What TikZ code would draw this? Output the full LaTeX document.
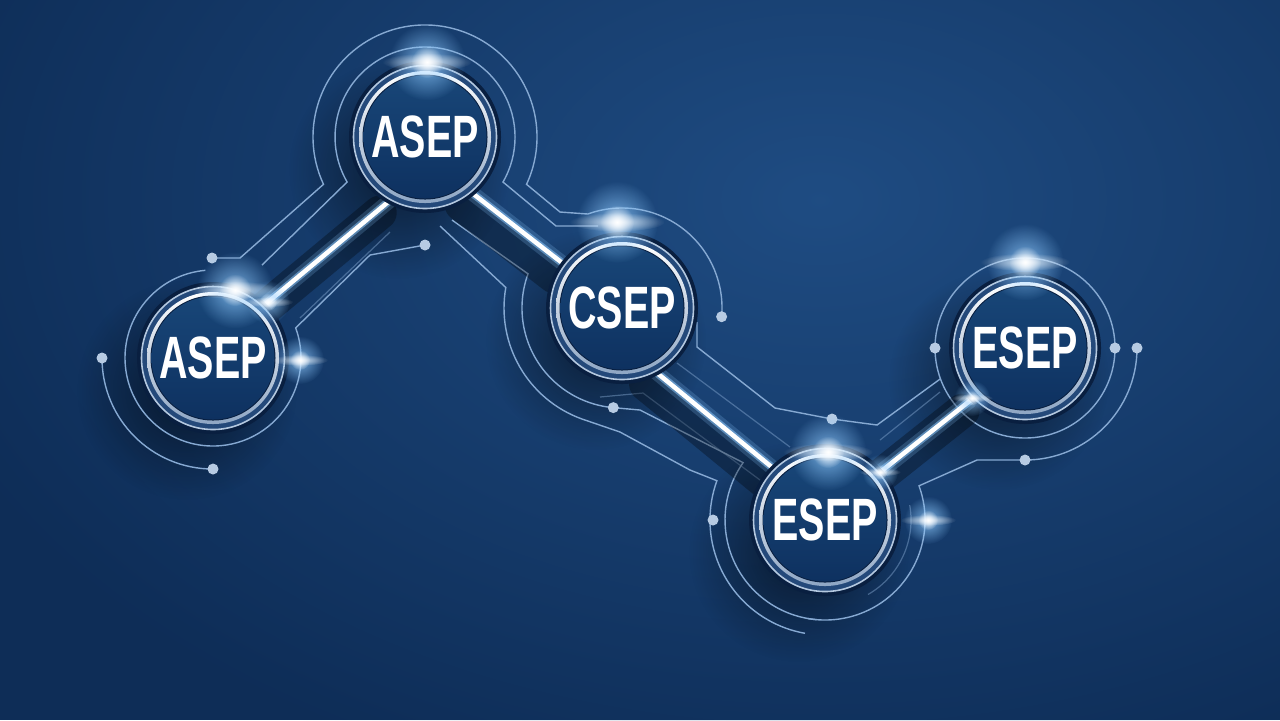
\documentclass[tikz,border=0pt]{standalone}
\usepackage{fontspec}
\usetikzlibrary{fadings}
\newfontfamily\lblfont[FakeStretch=0.66]{Liberation Sans Bold}
\definecolor{bgbase}{HTML}{0E2D57}
\definecolor{bglight}{HTML}{204E85}
\definecolor{navytop}{HTML}{184678}
\definecolor{navybot}{HTML}{0E3160}
\definecolor{navyedge}{HTML}{091F40}
\definecolor{bandc}{HTML}{24497A}
\definecolor{ringgray}{HTML}{8EA6C4}
\definecolor{ringline}{HTML}{B4C8DF}
\definecolor{circ}{HTML}{86A9D2}
\definecolor{dotc}{HTML}{B7CBE3}
\definecolor{glowc}{HTML}{8FCBFF}
\tikzfading[name=glowf, inner color=transparent!0, outer color=transparent!100]
\pgfdeclarelayer{back}
\pgfsetlayers{back,main}
\tikzset{
  lbl/.style={circle, minimum size=1.44cm, inner sep=0pt, text=white,
    font=\lblfont\fontsize{17}{18}\selectfont},
  circuit/.style={draw=circ, line width=0.4pt},
  faint/.style={draw=circ, line width=0.35pt, opacity=0.45},
  dotp/.style={fill=dotc},
  groove/.style={line width=0.34cm, draw=black, opacity=0.3, line cap=round},
  glowA/.style={line width=0.15cm, draw=glowc, opacity=0.2},
  glowB/.style={line width=0.08cm, draw=glowc, opacity=0.5},
  core/.style={line width=0.045cm, draw=white},
}
\newcommand\ringdeco[1]{%
  \fill[navyedge] (#1) circle (76);
  \fill[bandc] (#1) circle (72);
  \draw[ringline, line width=0.45pt] (#1) circle (71.5);
  \shade[top color=white, bottom color=ringgray] (#1) circle (66);
  \fill[navyedge] (#1) circle (62.5);
  \shade[top color=navytop, bottom color=navybot] (#1) circle (61.5);
}
\newcommand\glowspot[2]{%
  \fill[glowc, path fading=glowf, opacity=0.8] #1 circle [radius=#2*1.2];
  \fill[white, path fading=glowf, opacity=0.7] #1 ellipse [x radius=#2*1.4, y radius=#2*0.28];
  \fill[white, path fading=glowf] #1 circle [radius=#2*0.5];
}
\begin{document}
\begin{tikzpicture}[x=0.01cm,y=-0.01cm]
\useasboundingbox (0,0) rectangle (1280,720);
\coordinate (c1) at (213,358);
\coordinate (c2) at (425,137);
\coordinate (c3) at (622,308);
\coordinate (c4) at (825,520);
\coordinate (c5) at (1025,348);
\foreach \k in {c1,c2,c3,c4,c5} {\ringdeco{\k}}
\node[lbl] (n1) at (c1) {ASEP};
\node[lbl] (n2) at (c2) {ASEP};
\node[lbl] (n3) at (c3) {CSEP};
\node[lbl] (n4) at (c4) {ESEP};
\node[lbl] (n5) at (c5) {ESEP};
\begin{pgfonlayer}{back}
  \fill[bgbase] (0,0) rectangle (1280,720);
  \fill[bglight, path fading=glowf, opacity=0.95] (820,200) ellipse [x radius=950, y radius=620];
  % shadows of the nodes
  \foreach \k in {c1,c2,c3,c4,c5}
    \fill[black, opacity=0.55, path fading=glowf] ([shift={(-26,32)}]\k) circle [radius=110];
  % circuit lines
  \draw[circuit] (c1) ++(265:88) arc[start angle=265, end angle=-20, radius=88] -- (370,255) -- (425,245);
  \draw[circuit] (102,358) arc[start angle=180, end angle=90, radius=111];
  \draw[circuit] (212,258) -- (240,258) -- (323.5,184.3)
     arc[start angle=155, end angle=385, radius=112] -- (560,212) -- (587.8,214)
     arc[start angle=250, end angle=365, radius=100];
  \draw[circuit] (262,265) -- (347.1,182) arc[start angle=150, end angle=390, radius=90] -- (556,226) -- (598,226);
  \draw[circuit] (452,220) -- (528,273.8) arc[start angle=200, end angle=95, radius=100]
     -- (640,410) -- (743.1,462.6) arc[start angle=215, end angle=95, radius=100];
  \draw[circuit] (440,226) -- (505.8,287.5) arc[start angle=190, end angle=110, radius=118]
     -- (620,432) -- (690,470) -- (716.9,480.7) arc[start angle=200, end angle=100, radius=115];
  \draw[circuit] (697,322) -- (697,347) -- (775,408) -- (832,419) -- (877,425) -- (940.4,378.8);
  \draw[faint] (677,363) -- (790,447);
  \draw[faint] (600,397) -- (643,393) -- (760,480);
  \draw[faint] (300,318) -- (390,232);
  \draw[faint] (880,440) -- (940,392);
  \draw[circuit] (c5) circle [radius=90];
  \draw[circuit] (1137,348) arc[start angle=0, end angle=90, radius=112] -- (977,460)
     -- (919,485.8) arc[start angle=-20, end angle=100, radius=100];
  \draw[faint] (c4) ++(-10:86) arc[start angle=-10, end angle=60, radius=86];
  \foreach \p in {(212,258),(425,245),(102,358),(213,469),(721.6,316.7),(613.3,407.6),
                  (832,419),(713,520),(935,348),(1115,348),(1137,348),(1025,460)}
    \fill[dotp] \p circle [radius=5.5];
  % connectors
  \foreach \a/\b in {n1.46/n2.241, n2.-50/n3.143, n3.-62/n4.135, n4.41/n5.224} {
    \draw[groove] ([shift={(-10,12)}]\a) -- ([shift={(-10,12)}]\b);
    \draw[glowA] (\a) -- (\b);
    \draw[glowB] (\a) -- (\b);
    \draw[core] (\a) -- (\b);
  }
\end{pgfonlayer}
% glow spots
\glowspot{(235,290)}{32}
\glowspot{(268,302)}{18}
\glowspot{(300,360)}{20}
\glowspot{(427,62)}{32}
\glowspot{(617,222)}{34}
\glowspot{(828,452)}{32}
\glowspot{(928,520)}{20}
\glowspot{(880,472)}{15}
\glowspot{(972,398)}{15}
\glowspot{(1025,262)}{32}
\end{tikzpicture}
\end{document}
